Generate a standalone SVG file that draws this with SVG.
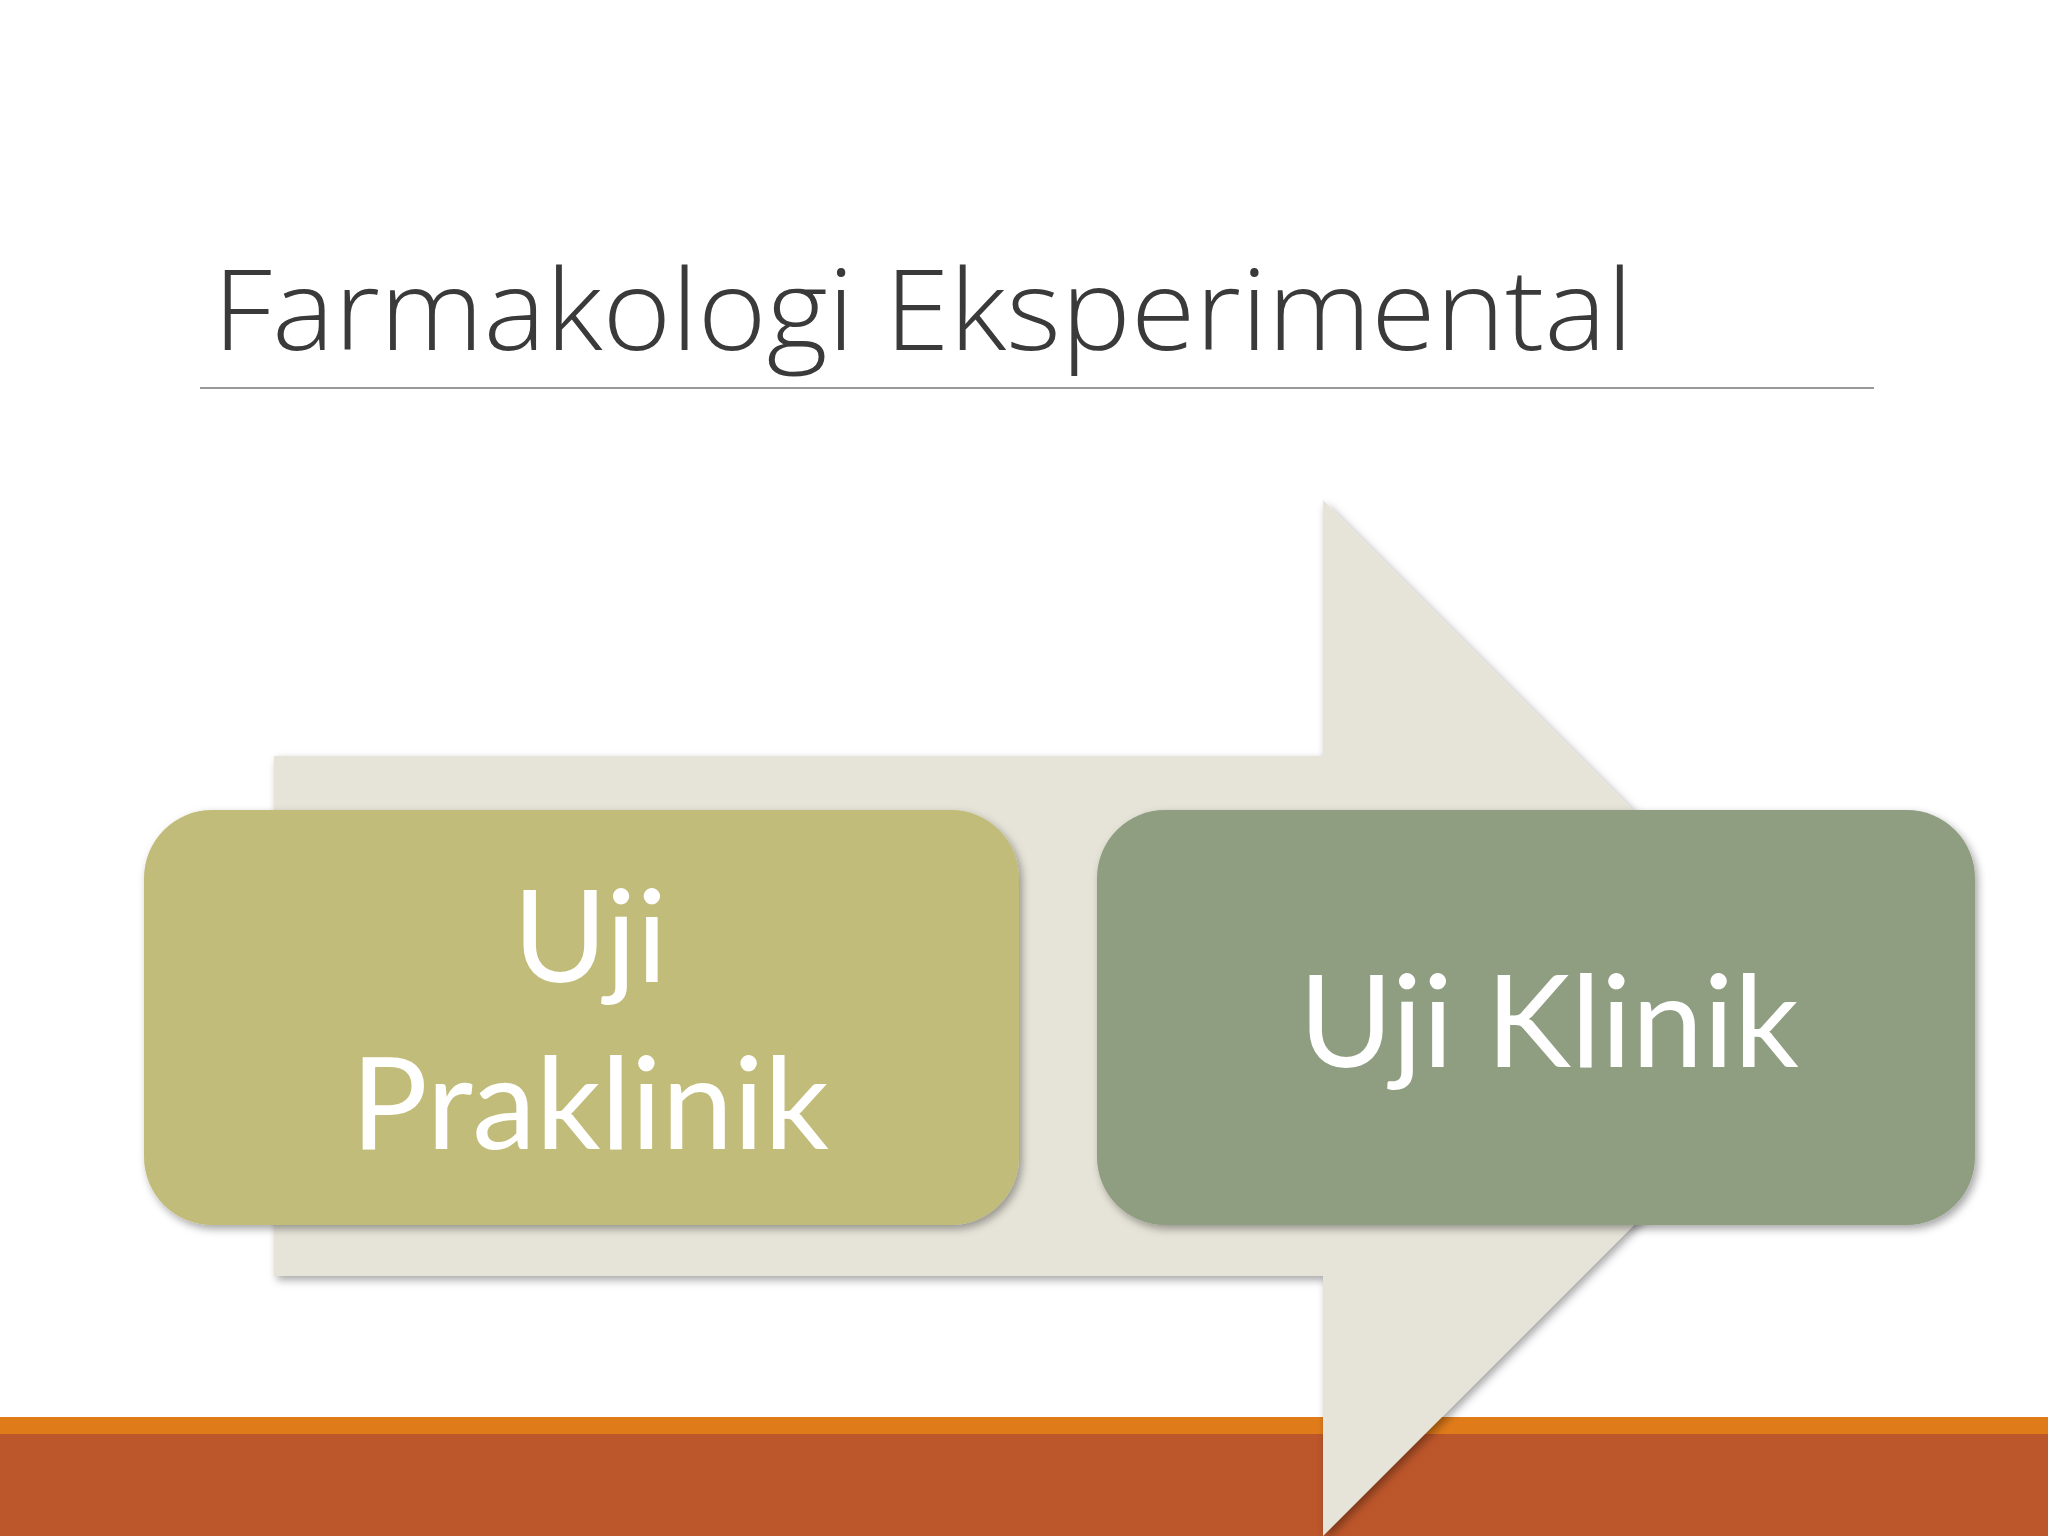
<svg xmlns="http://www.w3.org/2000/svg" width="2048" height="1536" viewBox="0 0 2048 1536">
<defs>
<filter id="sh" x="-10%" y="-10%" width="120%" height="120%"><feDropShadow dx="3" dy="4" stdDeviation="4" flood-color="#000" flood-opacity="0.35"/></filter>
</defs>
<style>
.lbl{font-family:Lato,"Noto Sans",sans-serif;font-size:128px;fill:#fff;text-anchor:middle}
</style>
<rect width="2048" height="1536" fill="#fff"/>
<text x="213" y="350" font-family="'Open Sans','Noto Sans',sans-serif" font-weight="300" font-size="112" fill="#3a3a3a" textLength="1420" lengthAdjust="spacingAndGlyphs">Farmakologi Eksperimental</text>
<line x1="200" y1="388" x2="1874" y2="388" stroke="#999" stroke-width="2"/>
<rect x="0" y="1417" width="2048" height="17" fill="#E07B1A"/>
<rect x="0" y="1434" width="2048" height="102" fill="#BC562B"/>
<g id="arrow"><polygon points="274,756 1323,756 1323,500 1841,1018 1323,1536 1323,1276 274,1276" fill="#E6E4D8" filter="url(#sh)"/></g>
<g id="praklinik"><rect x="144" y="810" width="875" height="415" rx="68" fill="#C2BC7A" filter="url(#sh)"/>
<text class="lbl" x="590" y="982">Uji</text><text class="lbl" x="590" y="1149">Praklinik</text></g>
<g id="klinik"><rect x="1097" y="810" width="878" height="415" rx="68" fill="#8F9D80" filter="url(#sh)"/>
<text class="lbl" x="1549" y="1067">Uji Klinik</text></g>
<g id="connectors"/>
</svg>
